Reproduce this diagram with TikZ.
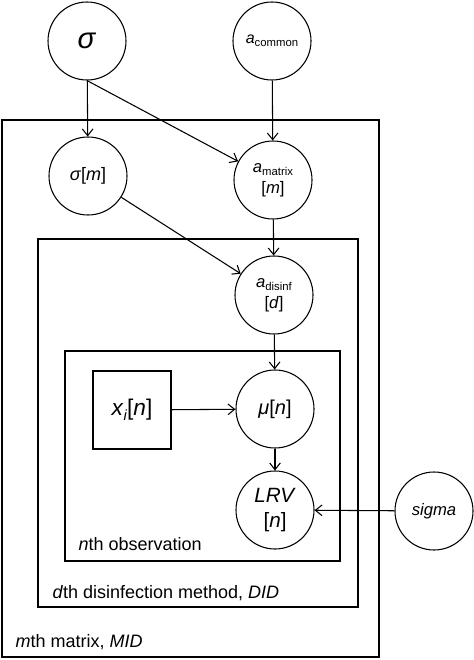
\documentclass[tikz,border=0pt]{standalone}
\usepackage{fontspec}
\setmainfont{Liberation Sans}
\usepackage{tikz}
\usetikzlibrary{arrows.meta}
\newcommand{\lowsub}[1]{\raisebox{-0.35ex}{\fontsize{8.5}{9}\selectfont #1}}
\newcommand{\fs}[1]{\fontsize{#1}{#1}\selectfont}

\begin{document}
\begin{tikzpicture}[x=0.75pt,y=-0.75pt,thick,
  var/.style={draw,circle,minimum size=58.5pt,inner sep=0pt,align=center},
  obs/.style={draw,rectangle,minimum size=58.5pt,inner sep=0pt},
  plate/.style={draw,rectangle},
  platelabel/.style={anchor=base west,inner sep=0pt,font=\fs{13.5}},
  >={Straight Barb[length=5pt,width=8pt]}]
			\useasboundingbox (0,0) rectangle (474,660);
			\draw[plate] (2,120) rectangle (379,657);
			\draw[plate] (38,239) rectangle (358,607);
			\draw[plate] (65,351) rectangle (340,561);
			\node[platelabel] (lblm) at (15,647) {\textit{m}th matrix, \textit{MID}};
			\node[platelabel] (lbld) at (52,598) {\textit{d}th disinfection method, \textit{DID}};
			\node[platelabel] (lbln) at (78,550) {\textit{n}th observation};
			\node[var,font=\fs{22}] (sig) at (87,41) {\textit{σ}};
			\node[var,font=\fs{12}] (acom) at (272,41) {\textit{a}\lowsub{common}};
			\node[var,font=\fs{13.5}] (sigm) at (88,176) {\textit{σ}[\textit{m}]};
			\node[var,font=\fs{12.5}] (amat) at (273,180) {\textit{a}\lowsub{matrix}\\[3pt][\textit{m}]};
			\node[var,font=\fs{12.5}] (adis) at (274,295) {\textit{a}\lowsub{disinf}\\[3pt][\textit{d}]};
			\node[obs,font=\fs{17}] (xin) at (132,410) {\textit{x}\raisebox{-0.35ex}{\fs{11}\textit{i}}[\textit{n}]};
			\node[var,font=\fs{15}] (mun) at (275,409) {\textit{μ}[\textit{n}]};
			\node[var,font=\fs{15.5}] (lrv) at (275,510) {\textit{LRV}\\[3pt][\textit{n}]};
			\node[var,font=\fs{12.5}] (sigr) at (434,511) {\textit{sigma}};
			\draw[->] (sig) -- (sigm);
			\draw[->] (sig.south) -- (amat);
			\draw[->] (acom) -- (amat);
			\draw[->] (sigm) -- (adis);
			\draw[->] (amat) -- (adis);
			\draw[->] (adis) -- (mun);
			\draw[->] (xin) -- (mun);
			\draw[->] (mun) -- (lrv);
			\draw[->] (sigr) -- (lrv);
		\end{tikzpicture}
\end{document}
